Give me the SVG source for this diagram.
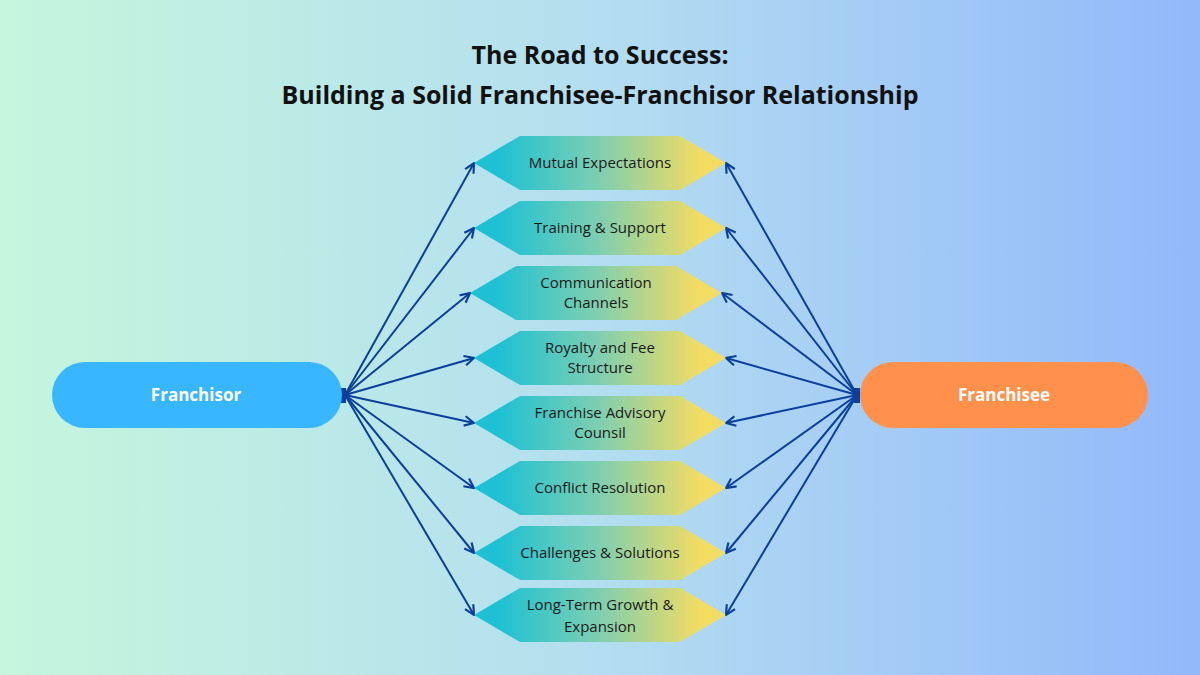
<svg xmlns="http://www.w3.org/2000/svg" width="1200" height="675" viewBox="0 0 1200 675">
<defs>
<linearGradient id="bg" x1="0" x2="1" y1="0" y2="0"><stop offset="0" stop-color="#c4f7dc"/><stop offset="0.5" stop-color="#b3def0"/><stop offset="1" stop-color="#93b8fb"/></linearGradient>
<linearGradient id="hx" x1="0" x2="1" y1="0" y2="0"><stop offset="0.1" stop-color="#1ec1d4"/><stop offset="0.5" stop-color="#7fcfb0"/><stop offset="0.9" stop-color="#f3dc62"/></linearGradient>
<marker id="ar" viewBox="0 0 10 10" refX="9" refY="5" markerWidth="6" markerHeight="6" orient="auto"><path d="M1,1 L9,5 L1,9" fill="none" stroke="#0a3f9c" stroke-width="1.8"/></marker>
<style>
.t{font-family:"Open Sans","Liberation Sans",sans-serif;font-size:15px;fill:#1a1a1a;text-anchor:middle}
.h{font-family:"Open Sans","Liberation Sans",sans-serif;font-size:25px;font-weight:bold;fill:#111;text-anchor:middle}
.n{font-family:"Open Sans","Liberation Sans",sans-serif;font-size:17px;font-weight:bold;fill:#fff;text-anchor:middle}
.c line{stroke:#0a3f9c;stroke-width:2;marker-end:url(#ar)}
</style>
</defs>
<rect width="1200" height="675" fill="url(#bg)"/>
<text class="h" x="600" y="64">The Road to Success:</text>
<text class="h" x="600" y="104">Building a Solid Franchisee-Franchisor Relationship</text>
<g class="c">
<line x1="345" y1="395" x2="474" y2="163"/><line x1="345" y1="395" x2="474" y2="228"/><line x1="345" y1="395" x2="470" y2="293"/><line x1="345" y1="395" x2="474" y2="358"/><line x1="345" y1="395" x2="474" y2="423"/><line x1="345" y1="395" x2="474" y2="488"/><line x1="345" y1="395" x2="474" y2="553"/><line x1="345" y1="395" x2="474" y2="615"/>
<line x1="857" y1="395" x2="726" y2="163"/><line x1="857" y1="395" x2="726" y2="228"/><line x1="857" y1="395" x2="722" y2="293"/><line x1="857" y1="395" x2="726" y2="358"/><line x1="857" y1="395" x2="726" y2="423"/><line x1="857" y1="395" x2="726" y2="488"/><line x1="857" y1="395" x2="726" y2="553"/><line x1="857" y1="395" x2="726" y2="615"/>
</g>
<rect x="340" y="388" width="6" height="15" fill="#0a3f9c"/>
<rect x="854" y="388" width="6" height="15" fill="#0a3f9c"/>
<g id="franchisor"><rect x="52" y="362" width="290" height="66" rx="33" fill="#38b6ff"/><text class="n" x="196" y="401">Franchisor</text></g>
<g id="franchisee"><rect x="860" y="362" width="288" height="66" rx="33" fill="#ff914d"/><text class="n" x="1004" y="401">Franchisee</text></g>
<g id="n1"><path d="M474,163 L520,136 L680,136 L726,163 L680,190 L520,190Z" fill="url(#hx)"/><text class="t" x="600" y="168">Mutual Expectations</text></g>
<g id="n2"><path d="M474,228 L520,201 L680,201 L726,228 L680,255 L520,255Z" fill="url(#hx)"/><text class="t" x="600" y="233">Training &amp; Support</text></g>
<g id="n3"><path d="M470,293 L516,266 L676,266 L722,293 L676,320 L516,320Z" fill="url(#hx)"/><text class="t" x="596" y="288">Communication</text><text class="t" x="596" y="308">Channels</text></g>
<g id="n4"><path d="M474,358 L520,331 L680,331 L726,358 L680,385 L520,385Z" fill="url(#hx)"/><text class="t" x="600" y="353">Royalty and Fee</text><text class="t" x="600" y="373">Structure</text></g>
<g id="n5"><path d="M474,423 L520,396 L680,396 L726,423 L680,450 L520,450Z" fill="url(#hx)"/><text class="t" x="600" y="418">Franchise Advisory</text><text class="t" x="600" y="438">Counsil</text></g>
<g id="n6"><path d="M474,488 L520,461 L680,461 L726,488 L680,515 L520,515Z" fill="url(#hx)"/><text class="t" x="600" y="493">Conflict Resolution</text></g>
<g id="n7"><path d="M474,553 L520,526 L680,526 L726,553 L680,580 L520,580Z" fill="url(#hx)"/><text class="t" x="600" y="558">Challenges &amp; Solutions</text></g>
<g id="n8"><path d="M474,615 L520,588 L680,588 L726,615 L680,642 L520,642Z" fill="url(#hx)"/><text class="t" x="600" y="610">Long-Term Growth &amp;</text><text class="t" x="600" y="632">Expansion</text></g>
</svg>
